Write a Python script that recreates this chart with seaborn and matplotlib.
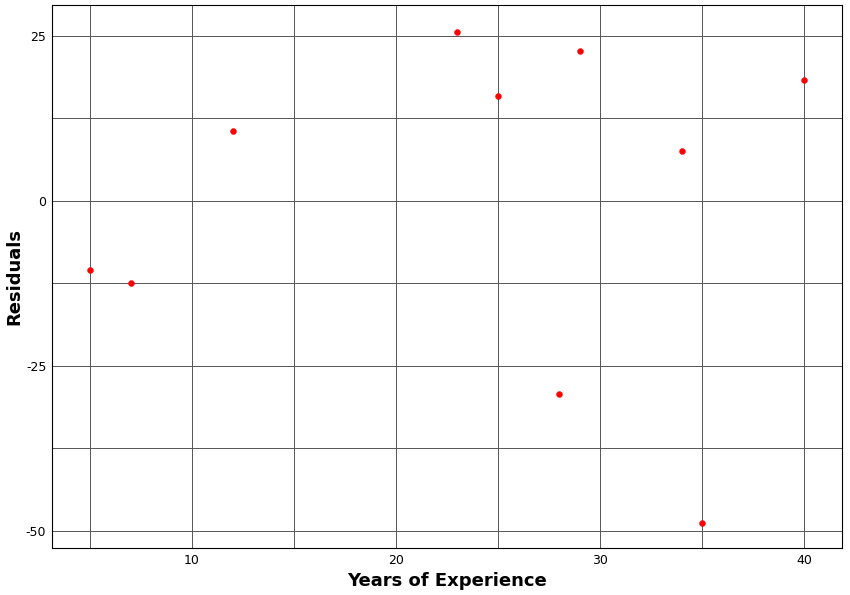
import matplotlib
matplotlib.use("Agg")
import matplotlib.pyplot as plt
import seaborn as sns
import pandas as pd

experience = [5, 7, 12, 23, 25, 28, 29, 34, 35, 40]
residuals = [-10.5, -12.4, 10.6, 25.6, 15.9, -29.2, 22.7, 7.6, -48.8, 18.3]
df = pd.DataFrame({"exp": experience, "res": residuals})

sns.set_style("white")
fig, ax = plt.subplots(figsize=(8.5, 5.95), dpi=100)
sns.scatterplot(data=df, x="exp", y="res", color="red", s=18, edgecolor="red", ax=ax, zorder=3)

ax.set_xlim(3.14, 41.86)
ax.set_ylim(-52.6, 29.7)
ax.set_xticks([10, 20, 30, 40])
ax.set_xticks([5, 15, 25, 35], minor=True)
ax.set_yticks([-50, -25, 0, 25])
ax.set_yticklabels(["-50", "-25", "0", "25"])
ax.set_yticks([-37.5, -12.5, 12.5], minor=True)
ax.grid(True, which="both", color="#555555", linewidth=0.7)
for s in ax.spines.values():
    s.set_color("black")
    s.set_linewidth(0.8)
ax.tick_params(which="both", length=0, labelsize=9, colors="black", pad=4)
ax.set_xlabel("Years of Experience", fontsize=13, fontweight="bold", color="black", labelpad=4)
ax.set_ylabel("Residuals", fontsize=13, fontweight="bold", color="black", labelpad=2)

plt.subplots_adjust(left=0.061, right=0.991, top=0.992, bottom=0.079)
plt.savefig("out.png", dpi=100)
